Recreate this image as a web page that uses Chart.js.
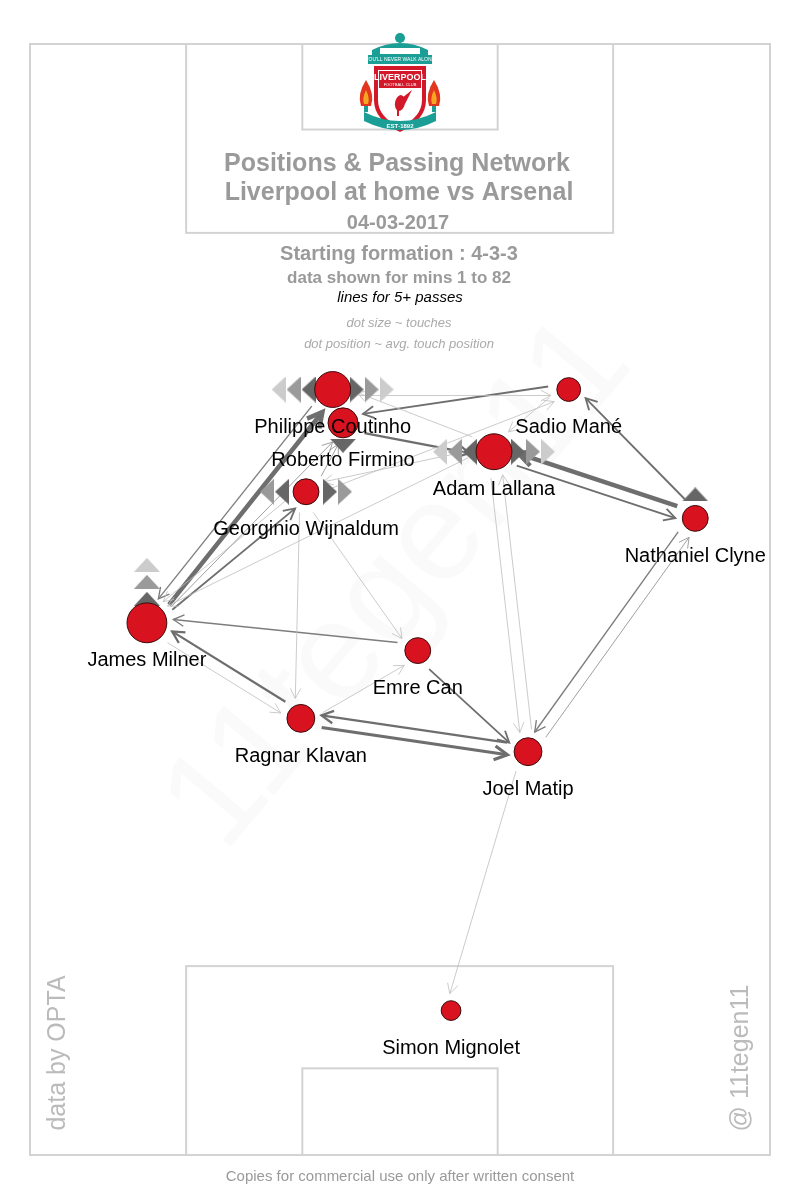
<!DOCTYPE html>
<html>
<head>
<meta charset="utf-8">
<title>Positions & Passing Network</title>
<script src="https://cdn.jsdelivr.net/npm/chart.js@4.4.1/dist/chart.umd.min.js"></script>
<style>
  html, body { margin: 0; padding: 0; background: #fff; }
  canvas { display: block; }
</style>
</head>
<body>
<canvas id="network" width="800" height="1200"></canvas>
<script>
// average touch position per player, pitch scaled 0-100 (x across, y up the pitch)
const players = ['Philippe Coutinho', 'Roberto Firmino', 'Adam Lallana', 'Sadio Mané',
  'Georginio Wijnaldum', 'Nathaniel Clyne', 'James Milner', 'Emre Can',
  'Ragnar Klavan', 'Joel Matip', 'Simon Mignolet'];
const posX = [40.9, 42.3, 62.7, 72.8, 37.3, 89.9, 15.8, 52.4, 36.6, 67.3, 56.9];
const posY = [68.9, 65.9, 63.3, 68.9, 59.7, 57.3, 47.9, 45.4, 39.3, 36.3, 13.0];
const touches = [73, 51, 73, 32, 38, 38, 90, 38, 44, 44, 22];

// passes between players (5+ only)
const passFrom = ['James Milner', 'Philippe Coutinho', 'James Milner', 'Georginio Wijnaldum',
  'James Milner', 'Adam Lallana', 'Emre Can', 'Ragnar Klavan', 'James Milner',
  'Georginio Wijnaldum', 'Georginio Wijnaldum', 'Ragnar Klavan', 'Emre Can', 'Ragnar Klavan',
  'Joel Matip', 'Joel Matip', 'Adam Lallana', 'Joel Matip', 'Nathaniel Clyne', 'Joel Matip',
  'Adam Lallana', 'Nathaniel Clyne', 'Nathaniel Clyne', 'Sadio Mané', 'Philippe Coutinho',
  'Roberto Firmino', 'Adam Lallana', 'Georginio Wijnaldum', 'Adam Lallana',
  'Georginio Wijnaldum', 'Sadio Mané'];
const passTo = ['Philippe Coutinho', 'James Milner', 'Georginio Wijnaldum', 'James Milner',
  'Roberto Firmino', 'James Milner', 'James Milner', 'James Milner', 'Ragnar Klavan',
  'Ragnar Klavan', 'Emre Can', 'Emre Can', 'Joel Matip', 'Joel Matip',
  'Ragnar Klavan', 'Simon Mignolet', 'Joel Matip', 'Adam Lallana', 'Joel Matip', 'Nathaniel Clyne',
  'Nathaniel Clyne', 'Adam Lallana', 'Sadio Mané', 'Roberto Firmino', 'Sadio Mané',
  'Adam Lallana', 'Philippe Coutinho', 'Sadio Mané', 'Georginio Wijnaldum',
  'Roberto Firmino', 'Adam Lallana'];
const passCount = [14, 7, 8, 5, 6, 5, 7, 9, 5, 5, 5, 5, 8, 11, 9, 5, 5, 5, 7, 6,
  8, 14, 8, 8, 5, 9, 5, 5, 5, 6, 5];

// positional shift markers beside the dots
const markPlayer = ['Philippe Coutinho', 'Philippe Coutinho', 'Adam Lallana', 'Adam Lallana',
  'Georginio Wijnaldum', 'Georginio Wijnaldum', 'Roberto Firmino', 'Nathaniel Clyne', 'James Milner'];
const markDir = ['left', 'right', 'left', 'right', 'left', 'right', 'down', 'up', 'up'];
const markCount = [3, 3, 3, 3, 2, 2, 1, 1, 3];

// pitch boxes [x0, x1, y0, y1] in pitch units
const pitchBoxes = [
  [0, 100, 0, 100],
  [21.1, 78.8, 83.0, 100],
  [36.8, 63.2, 92.3, 100],
  [21.1, 78.8, 0, 17.0],
  [36.8, 63.2, 0, 7.8]
];

const FONT = "'Liberation Sans', Arial, Helvetica, sans-serif";
const PAD = { left: 30, right: 30, top: 44, bottom: 45 };
const pxX = (800 - PAD.left - PAD.right) / 100;
const pxY = (1200 - PAD.top - PAD.bottom) / 100;
const dotR = t => 2.1 * Math.sqrt(t);
const shades = ['#666666', '#9a9a9a', '#cccccc'];

// flat triangle sprites (pointing up), one per shade
const triSprites = shades.map(c => {
  const cv = document.createElement('canvas');
  cv.width = 26;
  cv.height = 14;
  const g = cv.getContext('2d');
  g.fillStyle = c;
  g.beginPath();
  g.moveTo(0, 14);
  g.lineTo(13, 0);
  g.lineTo(26, 14);
  g.closePath();
  g.fill();
  return cv;
});

// triangle markers
const triData = [], triStyle = [], triRot = [];
markPlayer.forEach((p, i) => {
  const k = players.indexOf(p);
  for (let j = 0; j < markCount[i]; j++) {
    let x = posX[k], y = posY[k], rot = 0;
    if (markDir[i] === 'left') { x -= (24 + j * 15) / pxX; rot = -90; }
    if (markDir[i] === 'right') { x += (24 + j * 15) / pxX; rot = 90; }
    if (markDir[i] === 'up') { y += (24 + j * 17) / pxY; rot = 0; }
    if (markDir[i] === 'down') { y -= (23 + j * 17) / pxY; rot = 180; }
    triData.push({ x, y });
    triStyle.push(triSprites[j]);
    triRot.push(rot);
  }
});

function drawCrest(ctx) {
  const teal = '#1a9e95', red = '#d3182a';
  ctx.save();
  // flames
  [366, 434].forEach(fx => {
    ctx.fillStyle = '#e3361f';
    ctx.beginPath();
    ctx.moveTo(fx, 80);
    ctx.quadraticCurveTo(fx + 9, 94, fx + 5, 106);
    ctx.lineTo(fx - 5, 106);
    ctx.quadraticCurveTo(fx - 9, 94, fx, 80);
    ctx.fill();
    ctx.fillStyle = '#f6a623';
    ctx.beginPath();
    ctx.moveTo(fx, 90);
    ctx.quadraticCurveTo(fx + 4, 98, fx + 2, 104);
    ctx.lineTo(fx - 2, 104);
    ctx.quadraticCurveTo(fx - 4, 98, fx, 90);
    ctx.fill();
    ctx.fillStyle = teal;
    ctx.fillRect(fx - 2, 106, 4, 6);
  });
  // gate
  ctx.fillStyle = teal;
  ctx.beginPath();
  ctx.moveTo(372, 62);
  ctx.lineTo(372, 50);
  ctx.quadraticCurveTo(400, 36, 428, 50);
  ctx.lineTo(428, 62);
  ctx.closePath();
  ctx.fill();
  ctx.beginPath();
  ctx.arc(400, 38, 5, 0, Math.PI * 2);
  ctx.fill();
  ctx.fillStyle = '#fff';
  ctx.fillRect(380, 48, 40, 6);
  ctx.fillStyle = teal;
  ctx.fillRect(368, 55, 64, 9);
  ctx.fillStyle = '#fff';
  ctx.font = '5px ' + FONT;
  ctx.textAlign = 'center';
  ctx.textBaseline = 'middle';
  ctx.fillText("YOU'LL NEVER WALK ALONE", 400, 60);
  // shield
  ctx.fillStyle = red;
  ctx.beginPath();
  ctx.moveTo(374, 66);
  ctx.lineTo(426, 66);
  ctx.lineTo(426, 100);
  ctx.quadraticCurveTo(426, 120, 400, 132);
  ctx.quadraticCurveTo(374, 120, 374, 100);
  ctx.closePath();
  ctx.fill();
  ctx.fillStyle = '#fff';
  ctx.beginPath();
  ctx.moveTo(378, 70);
  ctx.lineTo(422, 70);
  ctx.lineTo(422, 100);
  ctx.quadraticCurveTo(422, 117, 400, 127);
  ctx.quadraticCurveTo(378, 117, 378, 100);
  ctx.closePath();
  ctx.fill();
  ctx.fillStyle = red;
  ctx.fillRect(379, 71, 42, 17);
  ctx.fillStyle = '#fff';
  ctx.font = 'bold 9px ' + FONT;
  ctx.fillText('LIVERPOOL', 400, 78);
  ctx.font = '4px ' + FONT;
  ctx.fillText('FOOTBALL CLUB', 400, 85);
  // liver bird
  ctx.fillStyle = red;
  ctx.beginPath();
  ctx.ellipse(400, 103, 5, 8, 0.2, 0, Math.PI * 2);
  ctx.fill();
  ctx.beginPath();
  ctx.moveTo(402, 98);
  ctx.lineTo(412, 90);
  ctx.lineTo(405, 104);
  ctx.fill();
  ctx.fillRect(397, 110, 2, 6);
  // bottom ribbon
  ctx.fillStyle = teal;
  ctx.beginPath();
  ctx.moveTo(364, 112);
  ctx.quadraticCurveTo(400, 130, 436, 112);
  ctx.lineTo(436, 121);
  ctx.quadraticCurveTo(400, 139, 364, 121);
  ctx.closePath();
  ctx.fill();
  ctx.fillStyle = '#fff';
  ctx.font = 'bold 6px ' + FONT;
  ctx.fillText('EST·1892', 400, 126);
  ctx.restore();
}

const background = {
  id: 'background',
  beforeDraw(chart) {
    const { ctx, scales: { x, y } } = chart;
    ctx.save();
    ctx.fillStyle = '#fff';
    ctx.fillRect(0, 0, chart.width, chart.height);

    // watermark
    ctx.save();
    ctx.translate(400, 585);
    ctx.rotate(-50 * Math.PI / 180);
    ctx.font = '140px ' + FONT;
    ctx.fillStyle = 'rgba(0,0,0,0.018)';
    ctx.textAlign = 'center';
    ctx.textBaseline = 'middle';
    ctx.fillText('11tegen11', 0, 0);
    ctx.restore();

    // pitch
    ctx.strokeStyle = '#d3d3d3';
    ctx.lineWidth = 2;
    pitchBoxes.forEach(b => {
      const x0 = x.getPixelForValue(b[0]), x1 = x.getPixelForValue(b[1]);
      const y0 = y.getPixelForValue(b[2]), y1 = y.getPixelForValue(b[3]);
      ctx.strokeRect(x0, y1, x1 - x0, y0 - y1);
    });

    drawCrest(ctx);

    // titles
    ctx.textAlign = 'center';
    ctx.textBaseline = 'middle';
    ctx.fillStyle = '#9a9a9a';
    ctx.font = 'bold 25px ' + FONT;
    ctx.fillText('Positions & Passing Network', 397, 164);
    ctx.fillText('Liverpool at home vs Arsenal', 399, 193);
    ctx.font = 'bold 20px ' + FONT;
    ctx.fillText('04-03-2017', 398, 223);
    ctx.fillText('Starting formation : 4-3-3', 399, 254);
    ctx.font = 'bold 17px ' + FONT;
    ctx.fillText('data shown for mins 1 to 82', 399, 278);
    ctx.fillStyle = '#000';
    ctx.font = 'italic 15px ' + FONT;
    ctx.fillText('lines for 5+ passes', 400, 298);
    ctx.fillStyle = '#aaaaaa';
    ctx.font = 'italic 13px ' + FONT;
    ctx.fillText('dot size ~ touches', 399, 323);
    ctx.fillText('dot position ~ avg. touch position', 399, 344);

    ctx.fillStyle = '#9a9a9a';
    ctx.font = '15px ' + FONT;
    ctx.fillText('Copies for commercial use only after written consent', 400, 1177);

    ctx.fillStyle = '#bbbbbb';
    ctx.font = '25px ' + FONT;
    ctx.save();
    ctx.translate(58, 1053);
    ctx.rotate(-Math.PI / 2);
    ctx.fillText('data by OPTA', 0, 0);
    ctx.restore();
    ctx.save();
    ctx.translate(741, 1058);
    ctx.rotate(-Math.PI / 2);
    ctx.fillText('@ 11tegen11', 0, 0);
    ctx.restore();
    ctx.restore();
  }
};

const passLines = {
  id: 'passLines',
  beforeDatasetsDraw(chart) {
    const { ctx, scales: { x, y } } = chart;
    ctx.save();
    ctx.lineCap = 'butt';
    passFrom.forEach((from, i) => {
      const a = players.indexOf(from), b = players.indexOf(passTo[i]);
      const ax = x.getPixelForValue(posX[a]), ay = y.getPixelForValue(posY[a]);
      const bx = x.getPixelForValue(posX[b]), by = y.getPixelForValue(posY[b]);
      const len = Math.hypot(bx - ax, by - ay);
      const ux = (bx - ax) / len, uy = (by - ay) / len;
      const nx = -uy, ny = ux;          // right-hand side of travel
      const off = 6;
      const sA = dotR(touches[a]) + 8, sB = dotR(touches[b]) + 6;
      const x0 = ax + ux * sA + nx * off, y0 = ay + uy * sA + ny * off;
      const x1 = bx - ux * sB + nx * off, y1 = by - uy * sB + ny * off;
      const n = passCount[i];
      const w = Math.max(0.8, (n - 4) * 0.45);
      const g = n >= 8 ? 110 : n === 7 ? 125 : n === 6 ? 150 : 190;
      ctx.strokeStyle = `rgb(${g},${g},${g})`;
      ctx.lineWidth = w;
      ctx.beginPath();
      ctx.moveTo(x0, y0);
      ctx.lineTo(x1, y1);
      ctx.stroke();
      // open arrow head
      const hl = 10 + w * 1.5, ang = 28 * Math.PI / 180;
      const back = Math.atan2(-uy, -ux);
      ctx.beginPath();
      ctx.moveTo(x1 + Math.cos(back + ang) * hl, y1 + Math.sin(back + ang) * hl);
      ctx.lineTo(x1, y1);
      ctx.lineTo(x1 + Math.cos(back - ang) * hl, y1 + Math.sin(back - ang) * hl);
      ctx.stroke();
    });
    ctx.restore();
  }
};

const nameLabels = {
  id: 'nameLabels',
  afterDatasetsDraw(chart) {
    const { ctx, scales: { x, y } } = chart;
    ctx.save();
    ctx.fillStyle = '#000';
    ctx.font = '20px ' + FONT;
    ctx.textAlign = 'center';
    ctx.textBaseline = 'middle';
    players.forEach((p, i) => {
      ctx.fillText(p, x.getPixelForValue(posX[i]), y.getPixelForValue(posY[i]) + 38);
    });
    ctx.restore();
  }
};

new Chart(document.getElementById('network'), {
  type: 'bubble',
  data: {
    datasets: [{
      label: 'Touches',
      data: players.map((p, i) => ({ x: posX[i], y: posY[i], r: dotR(touches[i]) })),
      backgroundColor: '#d8121f',
      borderColor: '#3b0b0b',
      borderWidth: 1
    }, {
      type: 'scatter',
      label: 'Shift',
      data: triData,
      pointStyle: triStyle,
      pointRadius: 10,
      pointRotation: triRot,
      borderWidth: 0,
      showLine: false
    }]
  },
  options: {
    responsive: false,
    animation: false,
    devicePixelRatio: 1,
    events: [],
    layout: { padding: PAD },
    scales: {
      x: { type: 'linear', min: 0, max: 100, display: false },
      y: { type: 'linear', min: 0, max: 100, display: false }
    },
    plugins: {
      legend: { display: false },
      tooltip: { enabled: false },
      title: { display: false }
    }
  },
  plugins: [background, passLines, nameLabels]
});
</script>
</body>
</html>
